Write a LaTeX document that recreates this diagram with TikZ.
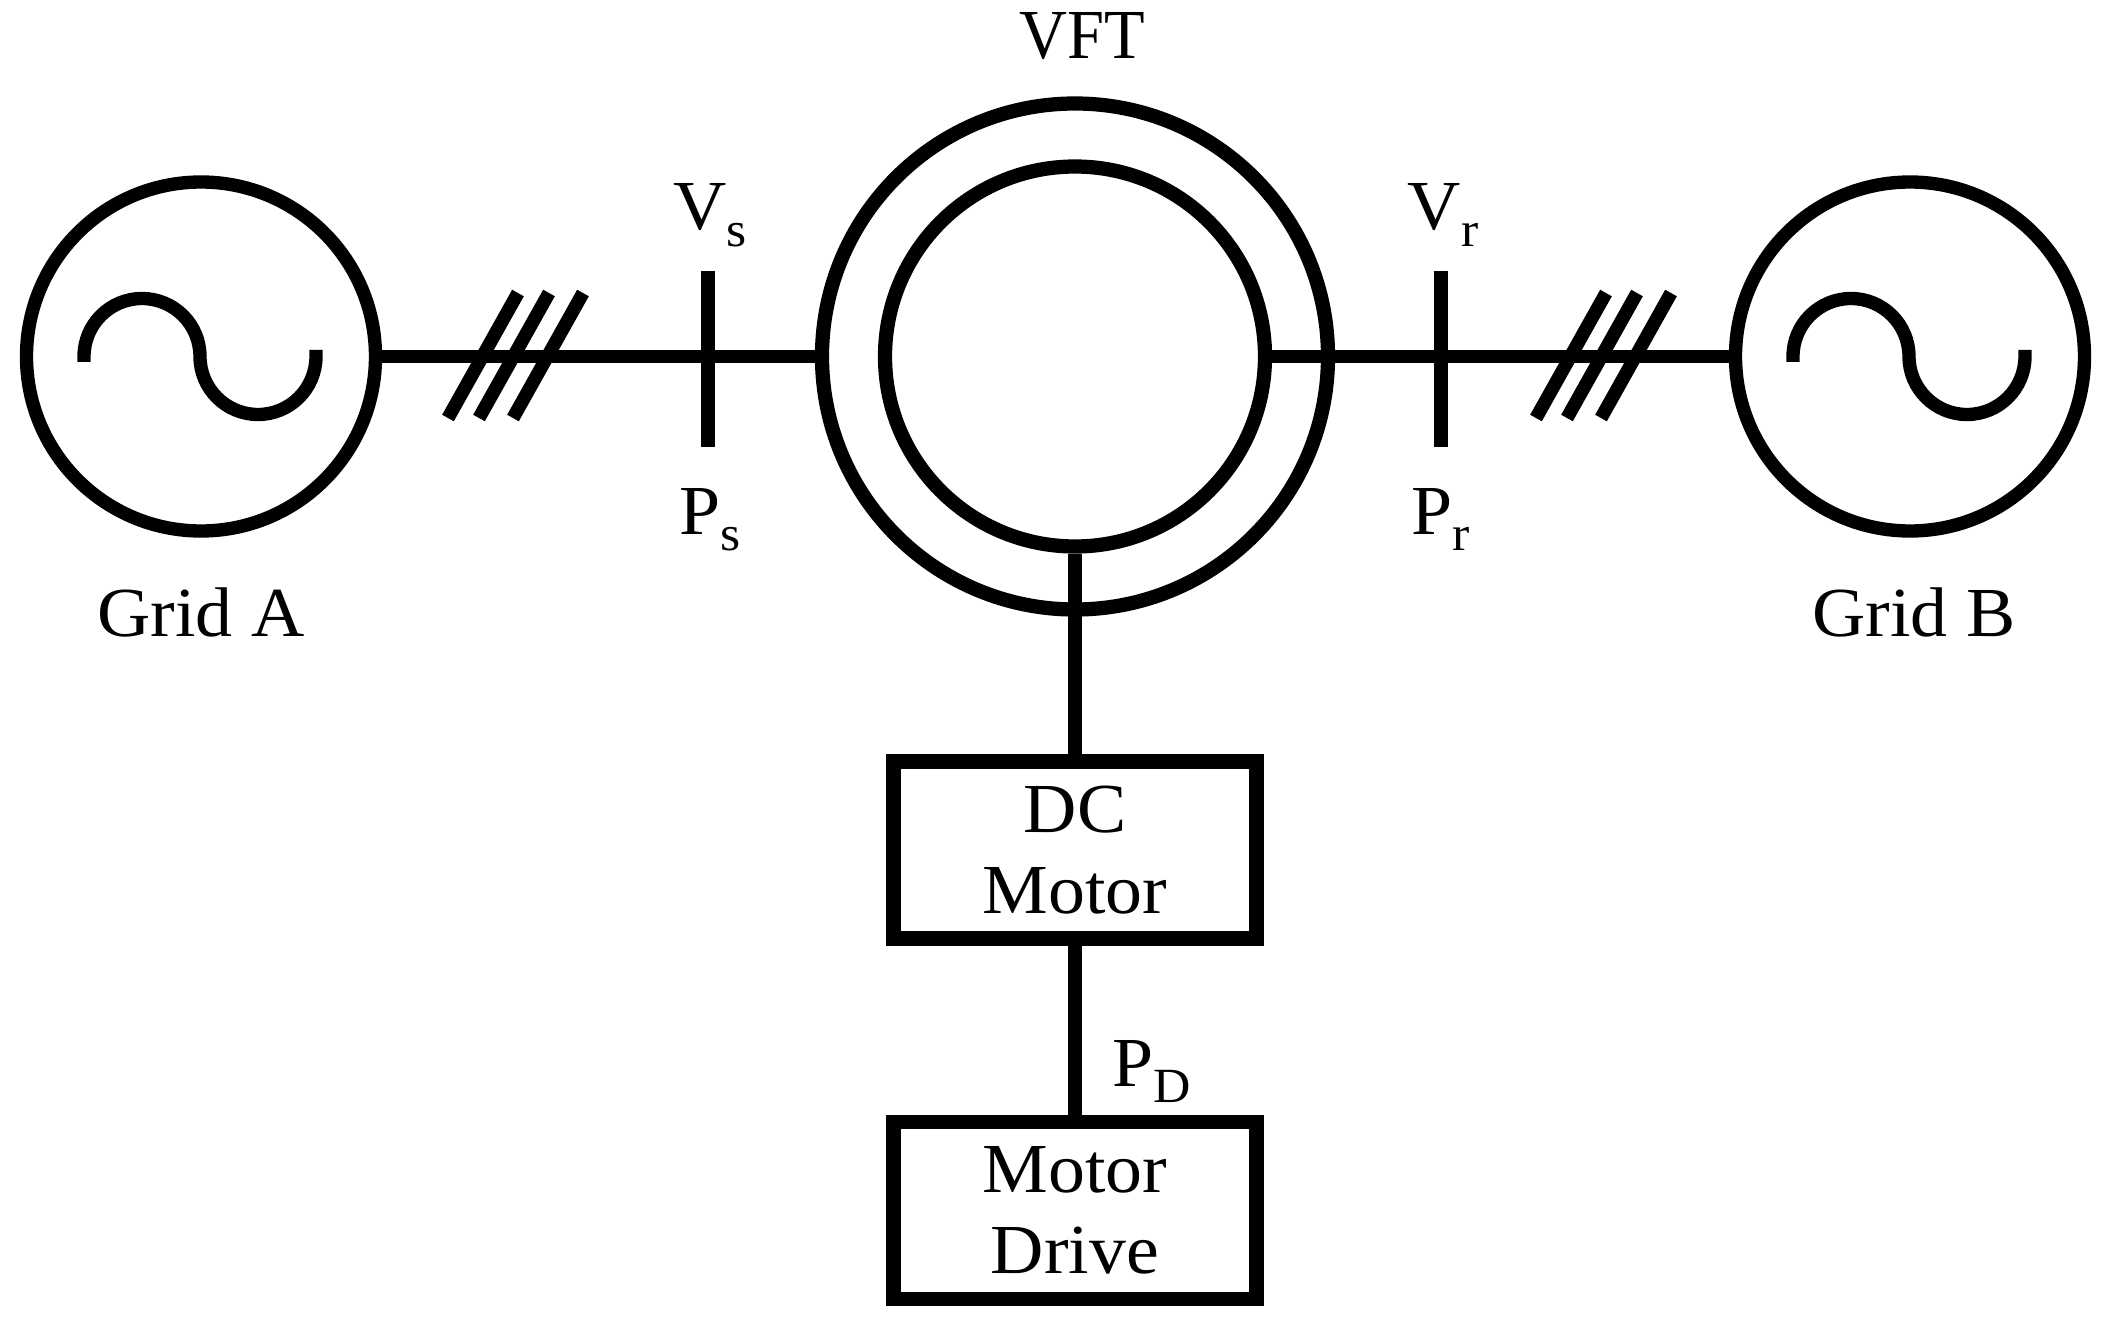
\documentclass[tikz,border=0pt]{standalone}
\usepackage{fontspec}
\setmainfont[FakeStretch=1.05]{Liberation Serif}
\usepackage{tikz}
\newcommand{\lowtext}[1]{\raisebox{-0.5ex}{\fontsize{14}{14}\selectfont #1}}
\tikzset{
  wire/.style={line width=3.8pt},
  ring/.style={draw,circle,line width=4.05pt,inner sep=0pt},
  blockbox/.style={draw,rectangle,line width=4pt,minimum width=3.63cm,minimum height=1.77cm,inner sep=0pt,align=center,font=\fontsize{20}{23}\selectfont},
  tag/.style={anchor=base,inner sep=0pt,font=\fontsize{20}{23}\selectfont}
}
\begin{document}
\begin{tikzpicture}
                    \useasboundingbox (0,0) rectangle (21.06,13.18);
                    \node[ring,line width=3.8pt,minimum size=3.49cm] (gridA) at (2.01,9.615) {};
                    \node[ring,line width=3.8pt,minimum size=3.49cm] (gridB) at (19.10,9.615) {};
                    \node[ring,minimum size=5.06cm] (vftOuter) at (10.75,9.615) {};
                    \node[ring,minimum size=3.8cm] (vftInner) at (10.75,9.615) {};
                    \node[blockbox] (dcMotor) at (10.75,4.68) {DC\\Motor};
                    \node[blockbox] (motorDrive) at (10.75,1.075) {Motor\\Drive};
                    \coordinate (busS) at (7.08,9.615);
                    \coordinate (busR) at (14.41,9.615);
                    % lines
                    \draw[wire] (gridA.east) -- (busS) -- (vftOuter.west);
                    \draw[wire] (vftInner.east) -- (busR) -- (gridB.west);
                    \draw[wire] (vftInner.south) -- (dcMotor.north);
                    \draw[wire] (dcMotor.south) -- (motorDrive.north);
                    % bus bars
                    \draw[wire] (busS) ++(0,0.855) -- ++(0,-1.76);
                    \draw[wire] (busR) ++(0,0.855) -- ++(0,-1.76);
                    % three phase marks
                    \foreach \x in {0,0.31,0.65} {
                      \draw[wire] (4.48+\x,9.0) -- ++(0.7,1.25);
                      \draw[wire] (15.36+\x,9.0) -- ++(0.7,1.25);
                    }
                    % sine waves
                    \foreach \g in {gridA,gridB} {
                      \draw[wire,shift={(\g)}] (-1.17,-0.055) -- (-1.17,0) arc[start angle=180,end angle=0,radius=0.58] arc[start angle=180,end angle=360,radius=0.58] -- ++(0,0.065);
                    }
                    % labels
                    \node[tag] (vftLabel) at (10.82,12.59) {\scalebox{0.9}[1]{VFT}};
                    \node[tag] (gridALabel) at (2.01,6.82) {Grid A};
                    \node[tag] (gridBLabel) at (19.14,6.82) {Grid B};
                    \node[tag] (vsLabel) at (7.10,10.88) {V\lowtext{s}};
                    \node[tag] (psLabel) at (7.10,7.84) {P\lowtext{s}};
                    \node[tag] (vrLabel) at (14.43,10.88) {V\lowtext{r}};
                    \node[tag] (prLabel) at (14.41,7.84) {P\lowtext{r}};
                    \node[tag] (pdLabel) at (11.52,2.32) {P\lowtext{D}};
                \end{tikzpicture}
\end{document}
